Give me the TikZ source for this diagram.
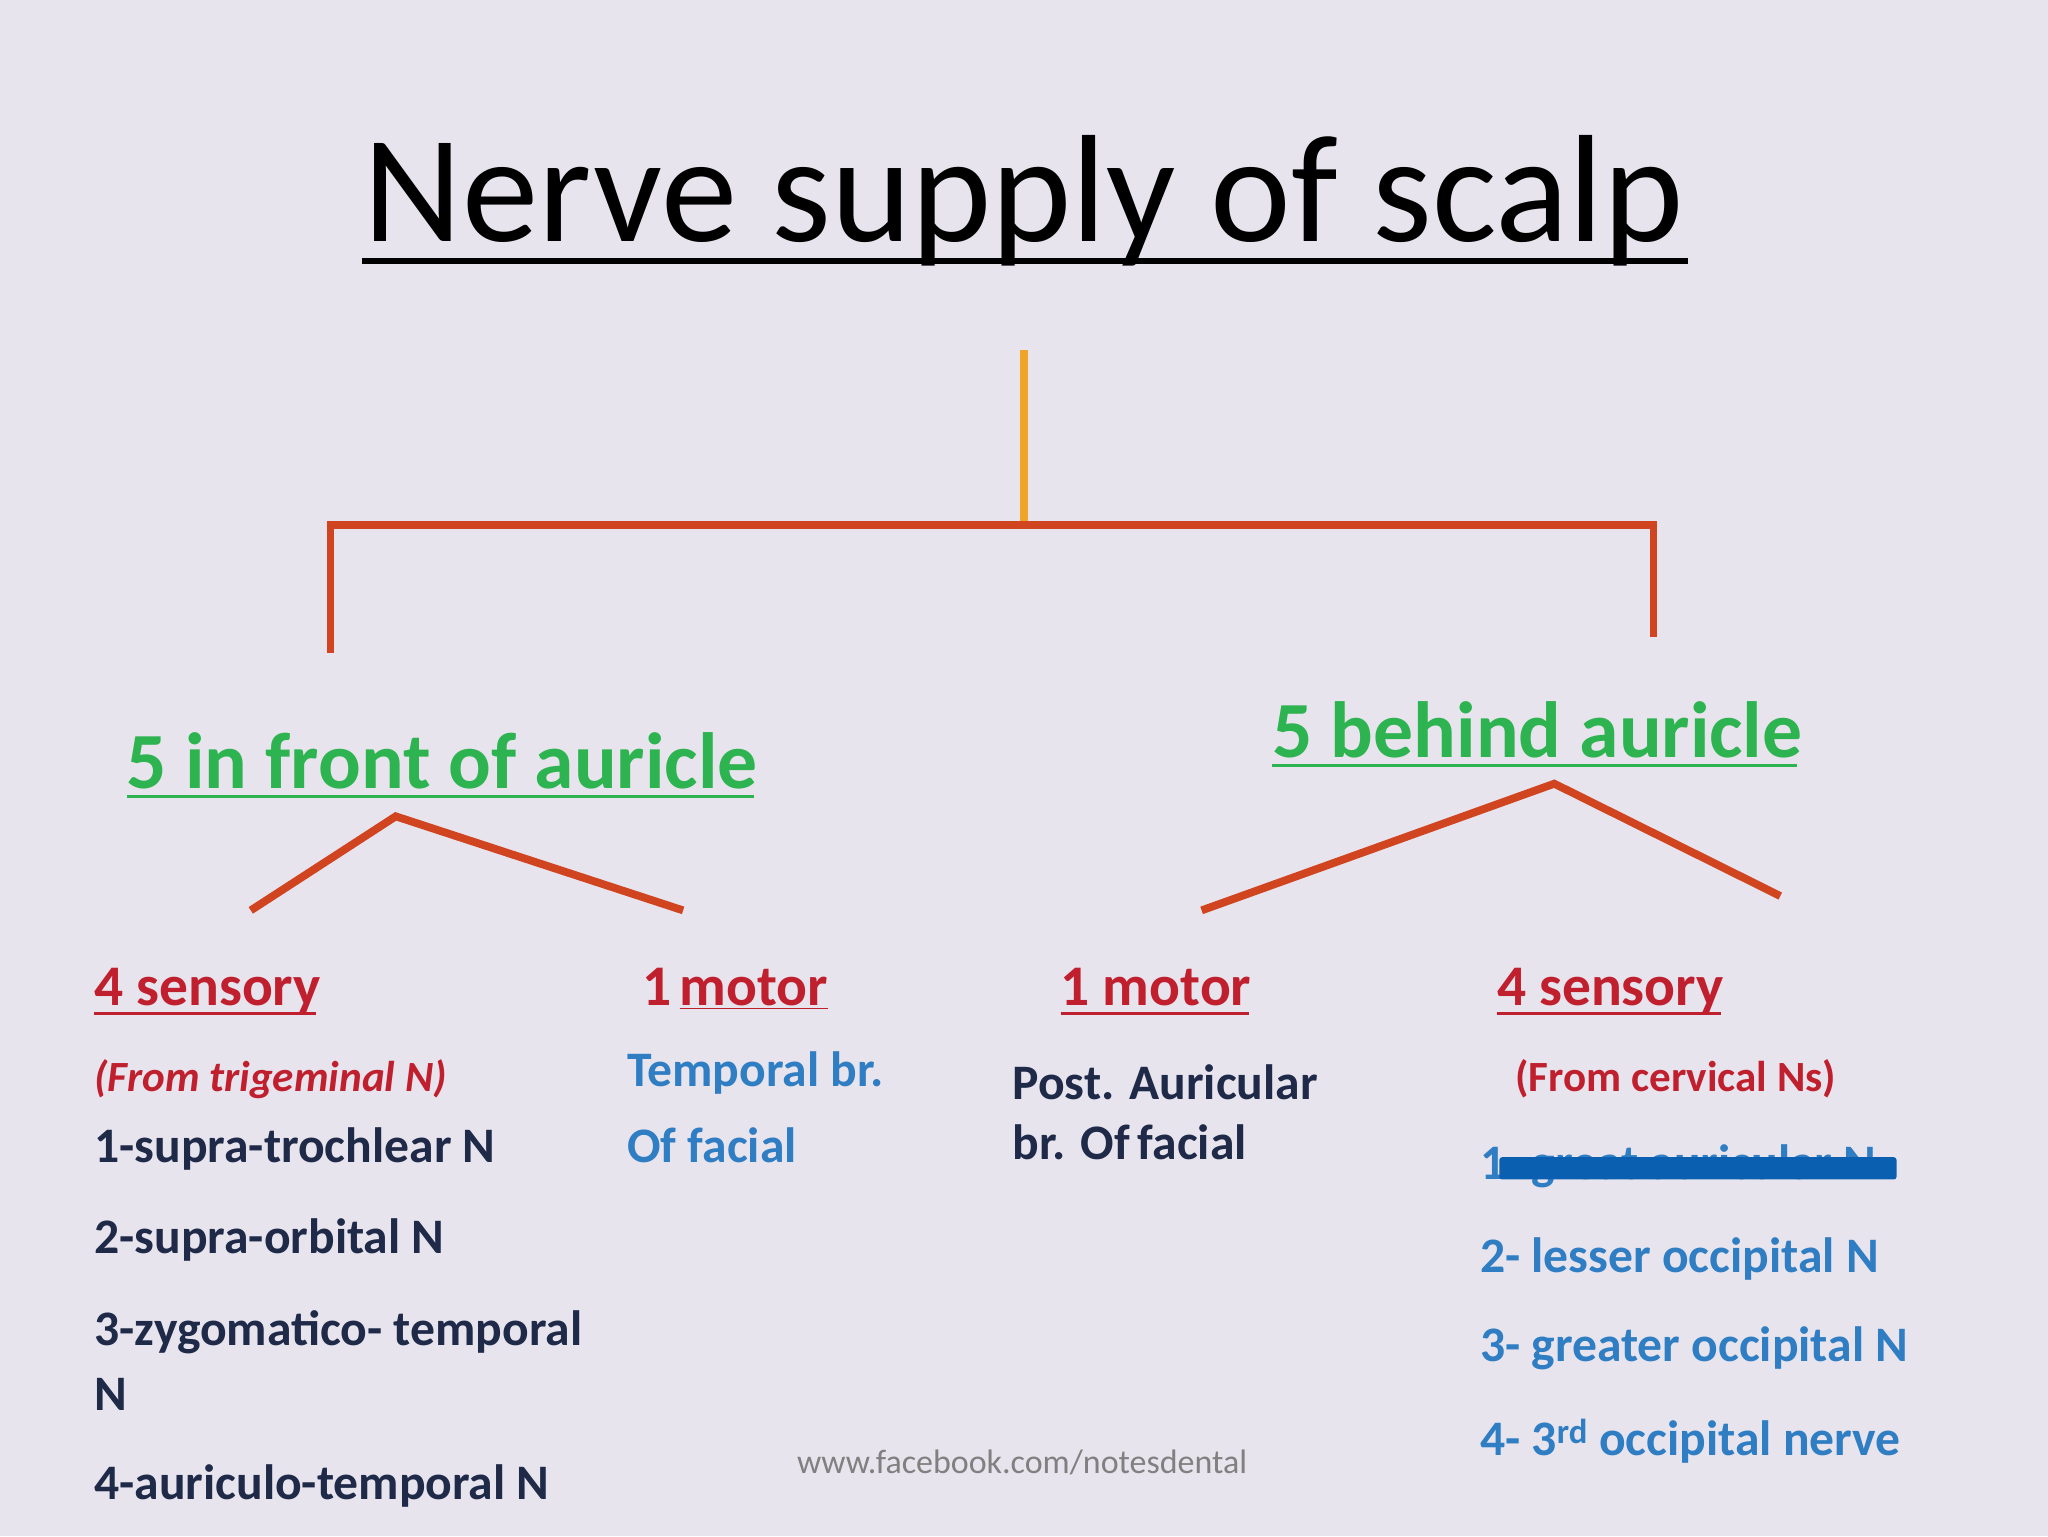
\documentclass[tikz,border=0pt]{standalone}
\usepackage{fontspec}
\setmainfont{Carlito}
\definecolor{bg}{HTML}{E8E4EE}
\definecolor{hred}{HTML}{C0202E}
\definecolor{hgreen}{HTML}{2DB34F}
\definecolor{tblue}{HTML}{2F7DC2}
\definecolor{tdark}{HTML}{1E2A48}
\definecolor{lred}{HTML}{D04420}
\definecolor{lorange}{HTML}{F0A428}
\definecolor{bar}{HTML}{0B5FB0}
\tikzset{
 lbl/.style={anchor=base west,inner sep=0pt,font=\fontsize{38}{44}\selectfont\bfseries},
 sub/.style={lbl,text=hred,font=\fontsize{44}{50}\selectfont\bfseries},
 head/.style={anchor=base west,inner sep=0pt,text=hgreen,font=\fontsize{61}{70}\selectfont\bfseries},
 conn/.style={draw=lred,line width=6pt}
}
\begin{document}
\begin{tikzpicture}[x=1pt,y=-1pt]
\fill[bg] (0,0) rectangle (1568,1176);
\useasboundingbox (0,0) rectangle (1568,1176);
\node[anchor=base,inner sep=0pt,font=\fontsize{117}{125}\selectfont] (title) at (784,185) {Nerve supply of scalp};
\draw[line width=5pt] (277,200) -- (1292,200);
\coordinate (top) at (784,268);
\coordinate (mid) at (784,402);
\coordinate (lt) at (253,402);
\coordinate (rt) at (1266,402);
\coordinate (lb) at (253,500);
\coordinate (rb) at (1266,488);
\draw[draw=lorange,line width=6pt] (top) -- (mid);
\draw[conn] (lb) -- (lt) -- (rt) -- (rb);
\node[head] (front) at (97,604) {5 in front of auricle};
\draw[line width=2.5pt,hgreen] (97,610) -- (577,610);
\node[head] (behind) at (974,580) {5 behind auricle};
\draw[line width=2.5pt,hgreen] (974,586) -- (1376,586);
\coordinate (fa) at (303,625);
\coordinate (fl) at (192,697);
\coordinate (fr) at (523,697);
\draw[conn] (fl) -- (fa) -- (fr);
\coordinate (ba) at (1190,600);
\coordinate (bl) at (920,697);
\coordinate (br) at (1363,686);
\draw[conn] (bl) -- (ba) -- (br);
% left sensory
\node[sub] (s1) at (72,770) {4 sensory};
\draw[hred,line width=2pt] (72,776) -- (242,776);
\node[lbl,text=hred,font=\fontsize{33}{38}\selectfont\bfseries\itshape] (s1f) at (72,836) {(From trigeminal N)};
\node[lbl,text=tdark] (a1) at (72,890) {1-supra-trochlear N};
\node[lbl,text=tdark] (a2) at (72,960) {2-supra-orbital N};
\node[lbl,text=tdark] (a3) at (72,1030) {3-zygomatico- temporal};
\node[lbl,text=tdark] (a3b) at (72,1080) {N};
\node[lbl,text=tdark] (a4) at (72,1148) {4-auriculo-temporal N};
% left motor
\node[sub] (m1) at (492,770) {1\hspace{6pt}\underline{motor}};
\node[lbl,text=tblue] (m1a) at (480,832) {Temporal br.};
\node[lbl,text=tblue] (m1b) at (480,890) {Of facial};
% right motor
\node[sub] (m2) at (812,770) {1 motor};
\draw[hred,line width=2pt] (812,776) -- (956,776);
\node[lbl,text=tdark] (m2a) at (775,842) {Post. Auricular};
\node[lbl,text=tdark] (m2b) at (775,888) {br. Of\hspace{6pt}facial};
% right sensory
\node[sub] (s2) at (1146,770) {4 sensory};
\draw[hred,line width=2pt] (1146,776) -- (1318,776);
\node[lbl,text=hred,font=\fontsize{33}{38}\selectfont\bfseries] (s2f) at (1160,836) {(From cervical Ns)};
\node[lbl,text=tblue] (b1) at (1133,903) {1- great auricular N};
\fill[bar,rounded corners=2pt] (1148,886) rectangle (1452,903);
\node[lbl,text=tblue] (b2) at (1133,974) {2- lesser occipital N};
\node[lbl,text=tblue] (b3) at (1133,1042) {3- greater occipital N};
\node[lbl,text=tblue] (b4) at (1133,1114) {4- 3\textsuperscript{rd} occipital nerve};
\node[anchor=base west,inner sep=0pt,text=gray,font=\fontsize{26}{30}\selectfont] (wm) at (610,1128) {www.facebook.com/notesdental};
\end{tikzpicture}
\end{document}
